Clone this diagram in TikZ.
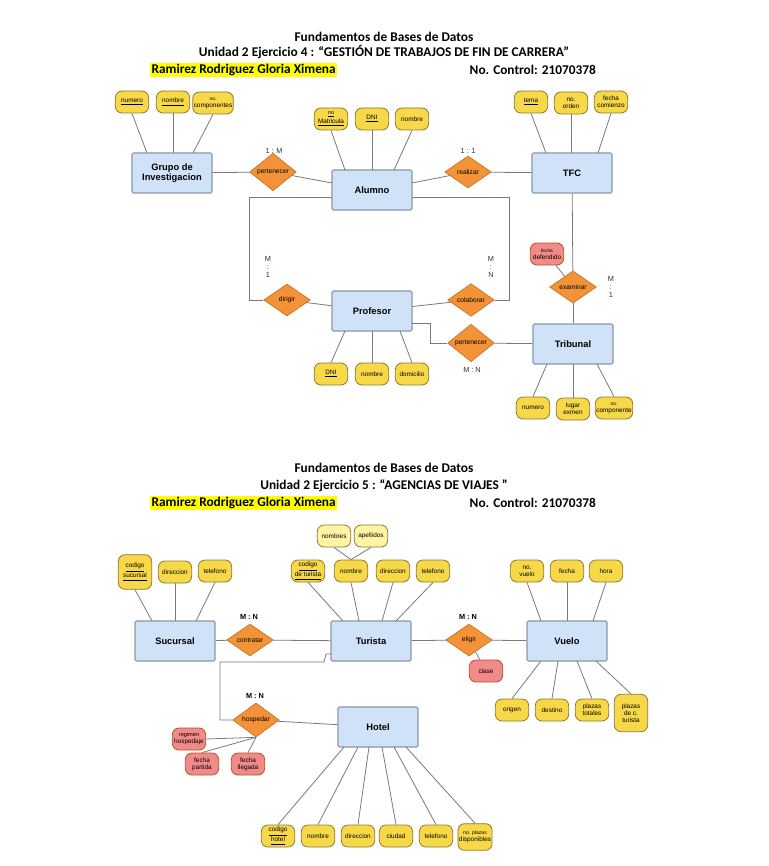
\documentclass[tikz,border=0pt]{standalone}
\usepackage{fontspec}
\setmainfont{Liberation Sans}
\newfontfamily\titf{Carlito}
\usetikzlibrary{shapes.geometric}
\definecolor{entf}{HTML}{CFE2F8}
\definecolor{entd}{HTML}{8A98A8}
\definecolor{attf}{HTML}{F7D848}
\definecolor{attd}{HTML}{8C7C30}
\definecolor{relf}{HTML}{F39237}
\definecolor{redf}{HTML}{F28A8A}
\definecolor{lyf}{HTML}{FFF3A6}
\definecolor{ln}{HTML}{7A7A7A}
\definecolor{hl}{HTML}{FFFF00}
\begin{document}
\begin{tikzpicture}[x=0.75pt,y=-0.75pt,
 ent/.style={draw=entd,fill=entf,line width=0.8pt,rounded corners=1pt,minimum width=60pt,minimum height=30pt,font=\bfseries\fontsize{7}{8}\selectfont,align=center,inner sep=1pt},
 att/.style={draw=attd,fill=attf,line width=0.6pt,rounded corners=5pt,minimum width=25pt,minimum height=16.5pt,font=\fontsize{4.8}{5.4}\selectfont,align=center,inner sep=0.8pt},
 red/.style={att,fill=redf,draw=attd!70!red},
 ly/.style={att,fill=lyf},
 rel/.style={diamond,draw=relf!80!black,fill=relf,line width=0.5pt,minimum width=35pt,minimum height=24pt,inner sep=0pt,font=\fontsize{5}{6}\selectfont},
 lab/.style={font=\fontsize{5.5}{6}\selectfont,text=black!80,align=center},
 blab/.style={font=\bfseries\fontsize{5.5}{6}\selectfont},
 e/.style={draw=ln,line width=0.6pt},
 tit/.style={font=\titf\bfseries\fontsize{10}{11}\selectfont}]
\useasboundingbox[fill=white] (0,0) rectangle (768,866);
% ---------- titles top
\node[tit] (t1) at (384,37) {Fundamentos de Bases de Datos};
\node[tit] (t2) at (384,52) {Unidad 2 Ejercicio 4 : “GESTIÓN DE TRABAJOS DE FIN DE CARRERA”};
\node[tit,fill=hl,inner sep=1pt,anchor=west] (t3) at (150,70) {Ramirez Rodriguez Gloria Ximena};
\node[tit,anchor=west] (t4) at (465,70) {No. Control: 21070378};
% ---------- top diagram
\node[ent] (gi) at (172,173) {Grupo de\\Investigacion};
\node[ent] (al) at (372,190) {Alumno};
\node[ent] (tfc) at (572,173) {TFC};
\node[ent] (pr) at (372,311) {Profesor};
\node[ent] (tr) at (573,344) {Tribunal};
\node[rel] (pe1) at (273,172) {pertenecer};
\node[rel] (re) at (468,172) {realizar};
\node[rel] (di) at (287,300) {dirigir};
\node[rel] (co) at (471,300) {colaborar};
\node[rel] (pe2) at (471,343) {pertenecer};
\node[rel] (ex) at (573,287) {examinar};
\node[att] (a1) at (132,102) {\underline{numero}};
\node[att] (a2) at (173,102) {\underline{nombre}};
\node[att] (a3) at (213,103) {\fontsize{3.6}{4}\selectfont no.\\componentes};
\node[att] (a4) at (331,119) {\fontsize{4}{4.5}\selectfont \underline{no}\\\underline{Matricula}};
\node[att] (a5) at (372,119) {\underline{DNI}};
\node[att] (a6) at (412,119) {nombre};
\node[att] (a7) at (531,102) {\underline{tema}};
\node[att] (a8) at (571,103) {no.\\orden};
\node[att] (a9) at (611,102) {fecha\\comienzo};
\node[att] (a10) at (331,374) {\underline{DNI}};
\node[att] (a11) at (372,374) {nombre};
\node[att] (a12) at (412,374) {domicilio};
\node[red] (a13) at (547,254) {\fontsize{3.6}{4}\selectfont fecha\\defendido};
\node[att] (a14) at (533,408) {numero};
\node[att] (a15) at (573,409) {lugar\\exmen};
\node[att] (a16) at (614,408) {\fontsize{3.6}{4}\selectfont no.\\componente};
\draw[e] (a1.south) -- (147,153); \draw[e] (a2) -- (173,153); \draw[e] (a3.south) -- (193,153);
\draw[e] (a4.south) -- (345,170); \draw[e] (a5) -- (372,170); \draw[e] (a6.south) -- (394,170);
\draw[e] (a7.south) -- (546,153); \draw[e] (a8) -- (571,153); \draw[e] (a9.south) -- (598,153);
\draw[e] (a10.north) -- (345,331); \draw[e] (a11) -- (372,331); \draw[e] (a12.north) -- (400,331);
\draw[e] (a14.north) -- (547,364); \draw[e] (a15) -- (573,364); \draw[e] (a16.north) -- (597,364);
\draw[e] (a13) -- (ex);
\draw[e] (gi) -- (pe1); \draw[e] (pe1) -- (332,183);
\draw[e] (tfc) -- (re); \draw[e] (re) -- (412,183);
\draw[e] (332,197) -- (249,197) -- (249,300) -- (di);
\draw[e] (di) -- (pr);
\draw[e] (412,197) -- (509,197) -- (509,300) -- (co);
\draw[e] (co) -- (pr);
\draw[e] (412,323) -- (430,323) -- (430,343) -- (pe2);
\draw[e] (pe2) -- (tr);
\draw[e] (tfc) -- (ex); \draw[e] (ex) -- (tr);
\node[lab] (l1) at (274,151) {1 : M};
\node[lab] (l2) at (468,151) {1 : 1};
\node[lab] (l3) at (268,267) {M\\:\\1};
\node[lab] (l4) at (491,267) {M\\:\\N};
\node[lab] (l5) at (611,287) {M\\:\\1};
\node[lab] (l6) at (472,370) {M : N};
% ---------- titles bottom
\node[tit] (b1) at (384,468) {Fundamentos de Bases de Datos};
\node[tit] (b2) at (384,486) {Unidad 2 Ejercicio 5 : “AGENCIAS DE VIAJES ”};
\node[tit,fill=hl,inner sep=1pt,anchor=west] (b3) at (150,503) {Ramirez Rodriguez Gloria Ximena};
\node[tit,anchor=west] (b4) at (465,503) {No. Control: 21070378};
% ---------- bottom diagram
\node[ent] (su) at (175,641) {Sucursal};
\node[ent] (tu) at (371,641) {Turista};
\node[ent] (vu) at (567,641) {Vuelo};
\node[ent] (ho) at (378,727) {Hotel};
\node[rel] (ct) at (250,640) {contratar};
\node[rel] (el) at (469,640) {eligir};
\node[rel] (hs) at (256,720) {hospedar};
\node[att,minimum height=26pt] (c1) at (135,572) {\underline{codigo}\\\underline{sucursal}};
\node[att] (c2) at (175,572) {direccion};
\node[att] (c3) at (215,571) {telefono};
\node[att] (c4) at (308,571) {\underline{codigo}\\\underline{de turista}};
\node[att] (c5) at (351,571) {nombre};
\node[att] (c6) at (393,571) {direccion};
\node[att] (c7) at (433,571) {telefono};
\node[ly] (c8) at (334,536) {nombres};
\node[ly] (c9) at (371,536) {apellidos};
\node[att] (c10) at (527,571) {no.\\vuelo};
\node[att] (c11) at (567,571) {fecha};
\node[att] (c12) at (606,571) {hora};
\node[red] (c13) at (486,671) {clase};
\node[att] (c14) at (512,710) {origen};
\node[att] (c15) at (552,710) {destino};
\node[att] (c16) at (592,710) {plazas\\totales};
\node[att,minimum height=28pt] (c17) at (631,713) {plazas\\de c.\\turista};
\node[red] (c18) at (189,739) {\fontsize{4.2}{4.6}\selectfont regimen\\hospedaje};
\node[red] (c19) at (202,764) {fecha\\partida};
\node[red] (c20) at (248,764) {fecha\\llegada};
\node[att] (h1) at (278,836) {\underline{codigo}\\\underline{hotel}};
\node[att] (h2) at (318,836) {nombre};
\node[att] (h3) at (358,836) {direccion};
\node[att] (h4) at (396,836) {ciudad};
\node[att] (h5) at (436,836) {telefono};
\node[att,minimum height=20pt] (h6) at (475,837) {\fontsize{3.8}{4.4}\selectfont no. plazas\\disponibles};
\draw[e] (c1.south) -- (152,621); \draw[e] (c2) -- (175,621); \draw[e] (c3.south) -- (196,621);
\draw[e] (c4.south) -- (343,621); \draw[e] (c5.south) -- (359,621); \draw[e] (c6.south) -- (382,621); \draw[e] (c7.south) -- (396,621);
\draw[e] (c8.south) -- (c5.north); \draw[e] (c9.south) -- (c5.north);
\draw[e] (c10.south) -- (541,621); \draw[e] (c11) -- (567,621); \draw[e] (c12.south) -- (593,621);
\draw[e] (c14.north) -- (541,661); \draw[e] (c15.north) -- (558,661); \draw[e] (c16.north) -- (577,661); \draw[e] (c17.north) -- (596,661);
\draw[e] (el) -- (c13);
\draw[e] (h1.north) -- (344,747); \draw[e] (h2.north) -- (358,747); \draw[e] (h3.north) -- (369,747);
\draw[e] (h4.north) -- (382,747); \draw[e] (h5.north) -- (394,747); \draw[e] (h6.north) -- (406,747);
\draw[e] (c18.east) -- (hs.south); \draw[e] (c19.north) -- (hs.south); \draw[e] (c20.north) -- (hs.south);
\draw[e] (su) -- (ct); \draw[e] (ct) -- (tu);
\draw[e] (tu) -- (el); \draw[e] (el) -- (vu);
\draw[e] (331,654) -- (326,654) -- (324,662) -- (220,662) -- (220,720) -- (hs);
\draw[e] (hs) -- (ho);
\node[blab] (m1) at (249,617) {M : N};
\node[blab] (m2) at (468,617) {M : N};
\node[blab] (m3) at (255,696) {M : N};
\end{tikzpicture}
\end{document}
